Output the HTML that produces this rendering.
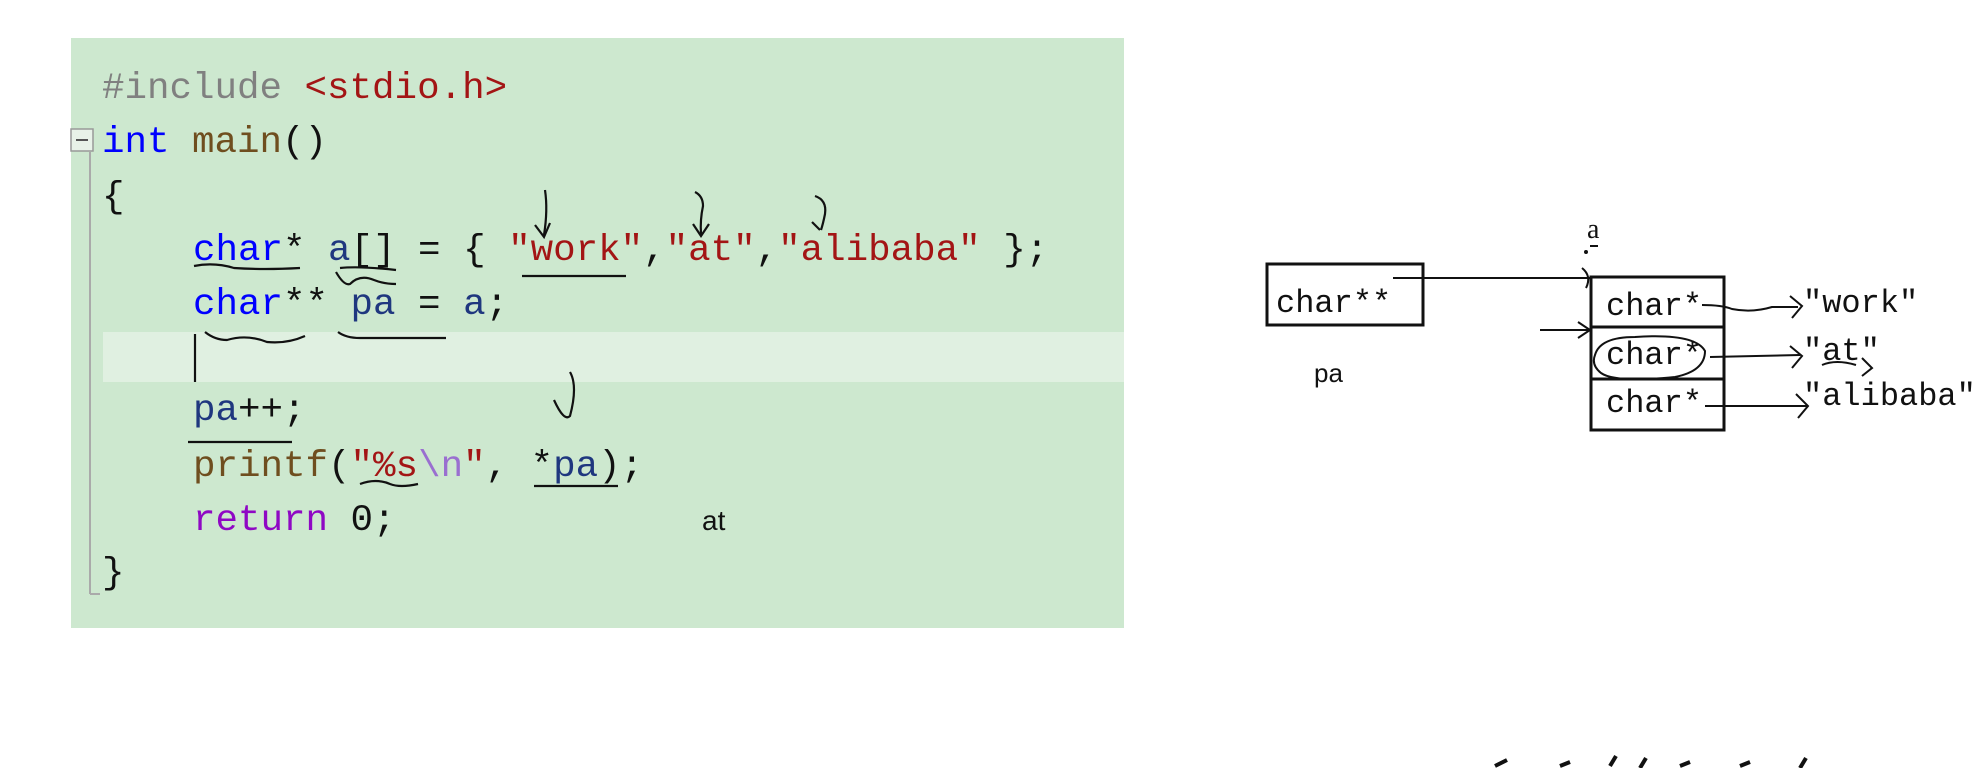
<!DOCTYPE html>
<html><head><meta charset="utf-8"><style>
html,body{margin:0;padding:0;background:#fff;width:1981px;height:768px;overflow:hidden}
svg{display:block}
.c{font-family:"Liberation Mono",monospace;font-size:37.5px}
.d{font-family:"Liberation Mono",monospace;font-size:32px;fill:#111}
</style></head><body>
<svg width="1981" height="768" xmlns="http://www.w3.org/2000/svg">
<rect x="71" y="38" width="1053" height="590" fill="#cde8cf"/>
<rect x="103" y="332" width="1021" height="50" fill="#e0f0e1"/>
<rect x="71" y="129" width="22" height="22" fill="#e8f2e8" stroke="#999" stroke-width="1.5"/>
<line x1="76" y1="140" x2="88" y2="140" stroke="#555" stroke-width="2"/>
<line x1="90" y1="152" x2="90" y2="594" stroke="#aaa" stroke-width="2"/>
<line x1="90" y1="594" x2="100" y2="594" stroke="#aaa" stroke-width="2"/>
<g class="c">
<text x="102" y="98" fill="#808080">#include <tspan fill="#a31515">&lt;stdio.h&gt;</tspan></text>
<text x="102" y="152"><tspan fill="#0000ff">int</tspan> <tspan fill="#6f4e1f">main</tspan><tspan fill="#111">()</tspan></text>
<text x="102" y="207" fill="#111">{</text>
<text x="193" y="260"><tspan fill="#0000ff">char</tspan><tspan fill="#111">* </tspan><tspan fill="#1f377f">a</tspan><tspan fill="#111">[] = { </tspan><tspan fill="#a31515">"work"</tspan><tspan fill="#111">,</tspan><tspan fill="#a31515">"at"</tspan><tspan fill="#111">,</tspan><tspan fill="#a31515">"alibaba"</tspan><tspan fill="#111"> };</tspan></text>
<text x="193" y="314"><tspan fill="#0000ff">char</tspan><tspan fill="#111">** </tspan><tspan fill="#1f377f">pa</tspan><tspan fill="#111"> = </tspan><tspan fill="#1f377f">a</tspan><tspan fill="#111">;</tspan></text>
<text x="193" y="420"><tspan fill="#1f377f">pa</tspan><tspan fill="#111">++;</tspan></text>
<text x="193" y="476"><tspan fill="#6f4e1f">printf</tspan><tspan fill="#111">(</tspan><tspan fill="#a31515">"%s</tspan><tspan fill="#9a6fd0">\n</tspan><tspan fill="#a31515">"</tspan><tspan fill="#111">, *</tspan><tspan fill="#1f377f">pa</tspan><tspan fill="#111">);</tspan></text>
<text x="193" y="530"><tspan fill="#8f08c4">return</tspan><tspan fill="#111"> 0;</tspan></text>
<text x="102" y="583" fill="#111">}</text>
</g>
<text x="702" y="530" font-family="Liberation Sans,sans-serif" font-size="28" fill="#111">at</text>
<g fill="none" stroke="#111" stroke-width="2.2">
<path d="M194 266 q20 -4 40 2 q30 2 66 0"/>
<path d="M340 268 q20 -2 56 2"/><path d="M336 272 q8 14 14 12 q10 -10 24 -4 q10 4 22 4"/>
<path d="M522 276 l104 0"/>
<path d="M195 334 v48"/><path d="M205 332 q10 8 22 8 q20 -6 40 2 q20 2 38 -6"/>
<path d="M338 332 q8 6 22 6 l86 0"/>
<path d="M188 442 l104 0"/>
<path d="M360 484 q16 -6 30 0 q10 4 28 0"/><path d="M534 486 l84 0"/>
<path d="M545 190 q3 20 -1 45"/><path d="M535 225 l9 12 l6 -14"/>
<path d="M695 192 q8 4 8 14 q-3 14 -2 28"/><path d="M693 224 l8 12 l8 -12"/>
<path d="M815 196 q12 4 10 18 q-2 10 -4 16"/><path d="M812 222 l8 8"/>
<path d="M570 372 q8 14 0 44 q-6 6 -16 -16"/>
</g>
<g fill="none" stroke="#111" stroke-width="3">
<rect x="1267" y="264" width="156" height="61"/>
<rect x="1591" y="277" width="133" height="153"/>
<line x1="1591" y1="327" x2="1724" y2="327"/>
<line x1="1591" y1="379" x2="1724" y2="379"/>
</g>
<g class="d">
<text x="1276" y="312">char**</text>
<text x="1606" y="315">char*</text>
<text x="1606" y="364">char*</text>
<text x="1606" y="412">char*</text>
<text x="1803" y="312">″work″</text>
<text x="1803" y="360">″at″</text>
<text x="1803" y="405">″alibaba″</text>
</g>
<text x="1314" y="382" font-family="Liberation Sans,sans-serif" font-size="26" fill="#111">pa</text>
<text x="1587" y="238" font-family="Liberation Serif,serif" font-size="28" fill="#111">a</text>
<g fill="none" stroke="#111" stroke-width="2">
<path d="M1590 246 l8 0"/><circle cx="1586" cy="252" r="1"/>
<path d="M1393 278 l198 0"/><path d="M1582 268 q10 8 4 20"/>
<path d="M1540 330 l48 0"/><path d="M1578 322 l12 8 l-12 8"/>
<path d="M1595 355 q5 -18 40 -18 q60 -4 70 14 q0 20 -30 26 q-60 6 -74 -4 q-10 -8 -6 -18z"/>
<path d="M1702 305 q20 0 30 4 q20 4 40 -2 l26 0"/><path d="M1790 296 l12 10 l-10 12"/>
<path d="M1710 357 l90 -2"/><path d="M1790 346 l12 10 l-10 12"/>
<path d="M1705 406 l103 0"/><path d="M1796 394 l12 12 l-10 12"/>
<path d="M1822 365 q14 -6 34 0"/><path d="M1862 358 l10 10 l-10 8"/>
</g>
<rect x="1490" y="756" width="340" height="12" fill="#fff"/>
<path d="M1495 766 l12 -6 M1560 766 l10 -4 M1610 766 l6 -10 M1640 768 l6 -10 M1680 766 l10 -4 M1740 766 l10 -4 M1800 768 l6 -10" stroke="#111" stroke-width="4"/>
</svg>
</body></html>
